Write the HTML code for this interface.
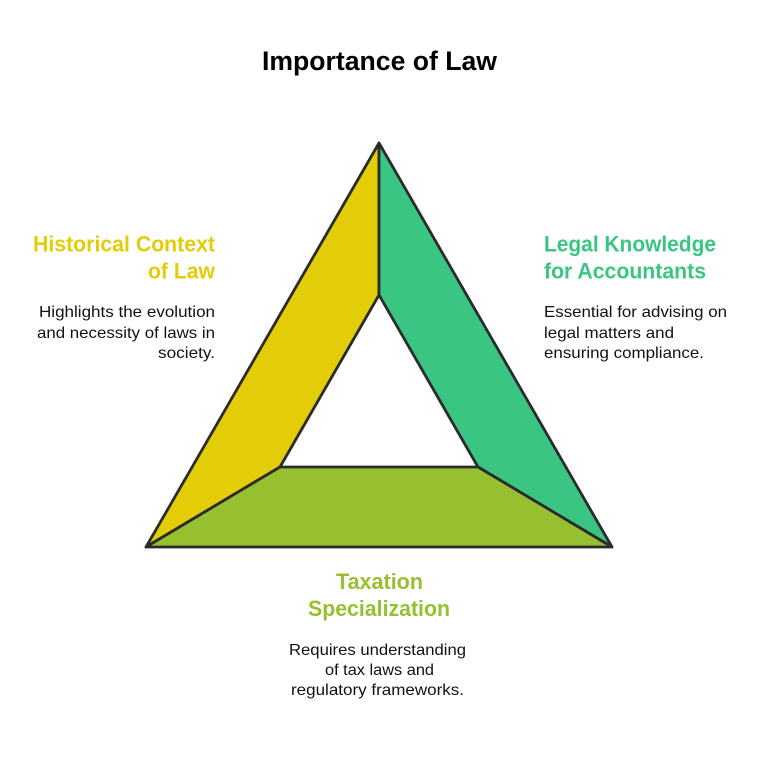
<!DOCTYPE html>
<html><head><meta charset="utf-8"><style>
html,body{margin:0;padding:0;background:#fff;width:772px;height:759px;overflow:hidden}
svg{display:block}
text{font-family:"Liberation Sans",Arial,sans-serif}
.h{font-weight:700;font-size:22px}
.b{font-size:16px;fill:#111}
</style></head><body>
<svg width="772" height="759" viewBox="0 0 772 759" xmlns="http://www.w3.org/2000/svg">
<rect width="772" height="759" fill="#fff"/>
<text x="262" y="70" font-size="27" font-weight="700" fill="#000" textLength="235" lengthAdjust="spacingAndGlyphs">Importance of Law</text>
<g stroke="#2b2b2b" stroke-width="2.8" stroke-linejoin="round">
<polygon points="379,143 379,295 280,467 146,547" fill="#e3cd08"/>
<polygon points="379,143 379,295 478,467 612,547" fill="#3ac682"/>
<polygon points="146,547 280,467 478,467 612,547" fill="#96c02f"/>
</g>
<g fill="#e3cd08">
<text class="h" x="33" y="251.5" textLength="182" lengthAdjust="spacingAndGlyphs">Historical Context</text>
<text class="h" x="148" y="278.5" textLength="67" lengthAdjust="spacingAndGlyphs">of Law</text>
</g>
<text class="b" x="39" y="317" textLength="176" lengthAdjust="spacingAndGlyphs">Highlights the evolution</text>
<text class="b" x="37" y="338" textLength="178" lengthAdjust="spacingAndGlyphs">and necessity of laws in</text>
<text class="b" x="158" y="358" textLength="57" lengthAdjust="spacingAndGlyphs">society.</text>
<g fill="#3ac682">
<text class="h" x="544" y="251.5" textLength="172" lengthAdjust="spacingAndGlyphs">Legal Knowledge</text>
<text class="h" x="544" y="278.5" textLength="162" lengthAdjust="spacingAndGlyphs">for Accountants</text>
</g>
<text class="b" x="544" y="317" textLength="183" lengthAdjust="spacingAndGlyphs">Essential for advising on</text>
<text class="b" x="544" y="338" textLength="130" lengthAdjust="spacingAndGlyphs">legal matters and</text>
<text class="b" x="544" y="358" textLength="160" lengthAdjust="spacingAndGlyphs">ensuring compliance.</text>
<g fill="#96c02f">
<text class="h" x="336" y="589" textLength="87" lengthAdjust="spacingAndGlyphs">Taxation</text>
<text class="h" x="308" y="616" textLength="142" lengthAdjust="spacingAndGlyphs">Specialization</text>
</g>
<text class="b" x="289" y="655" textLength="177" lengthAdjust="spacingAndGlyphs">Requires understanding</text>
<text class="b" x="325" y="675" textLength="109" lengthAdjust="spacingAndGlyphs">of tax laws and</text>
<text class="b" x="291" y="695" textLength="173" lengthAdjust="spacingAndGlyphs">regulatory frameworks.</text>
</svg>
</body></html>
